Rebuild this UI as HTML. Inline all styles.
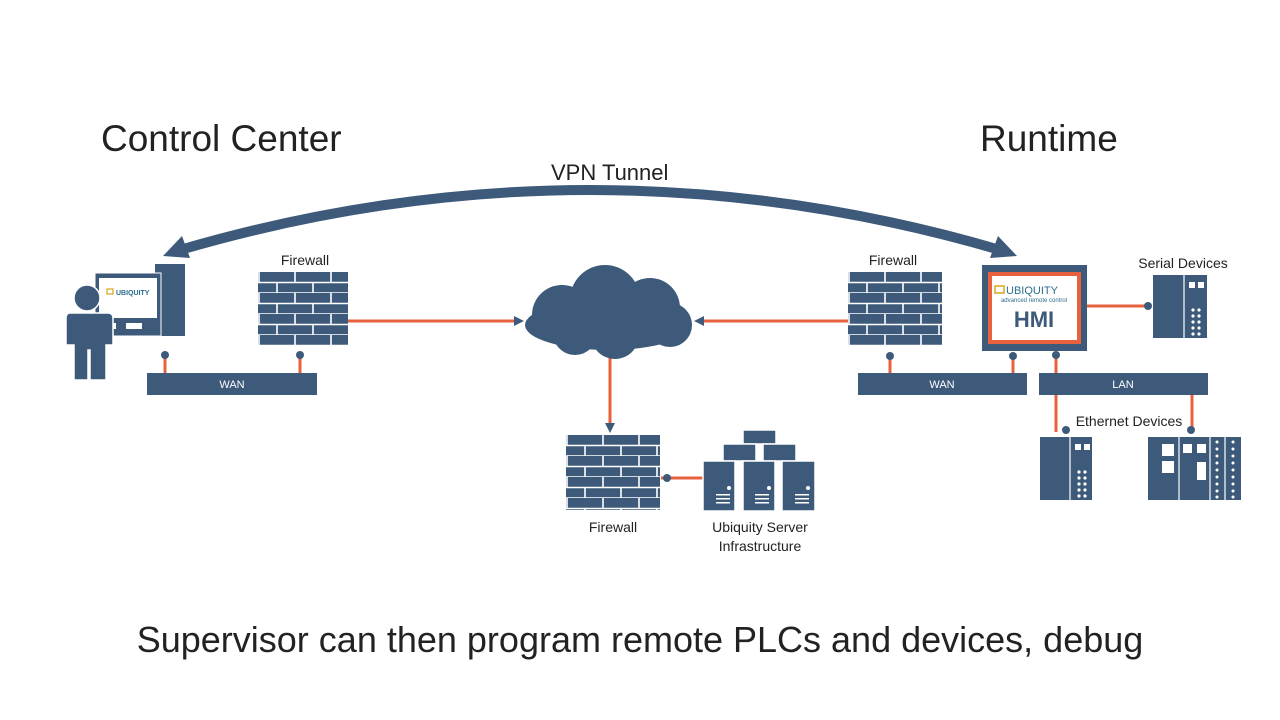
<!DOCTYPE html>
<html><head><meta charset="utf-8"><style>
html,body{margin:0;padding:0;background:#fff;width:1280px;height:720px;overflow:hidden}
svg{display:block}
text{font-family:"Liberation Sans",sans-serif}
</style></head><body>
<svg width="1280" height="720" viewBox="0 0 1280 720">
<defs>
<pattern id="b1" x="258" y="272" width="36" height="21" patternUnits="userSpaceOnUse">
<rect width="36" height="21" fill="#3d5a7a"/>
<path d="M0 10.5H36M0 21H36M1 0V10.5M19 10.5V21" stroke="#fff" stroke-width="1.6" fill="none"/>
</pattern>
<pattern id="b2" x="848" y="272" width="36" height="21" patternUnits="userSpaceOnUse">
<rect width="36" height="21" fill="#3d5a7a"/>
<path d="M0 10.5H36M0 21H36M1 0V10.5M19 10.5V21" stroke="#fff" stroke-width="1.6" fill="none"/>
</pattern>
<pattern id="b3" x="566" y="435" width="36" height="21" patternUnits="userSpaceOnUse">
<rect width="36" height="21" fill="#3d5a7a"/>
<path d="M0 10.5H36M0 21H36M1 0V10.5M19 10.5V21" stroke="#fff" stroke-width="1.6" fill="none"/>
</pattern>
</defs>
<g fill="#222">
<text x="101" y="151" font-size="37">Control Center</text>
<text x="980" y="151" font-size="37">Runtime</text>
<text x="551" y="180" font-size="22">VPN Tunnel</text>
<text x="640" y="652" font-size="36" text-anchor="middle">Supervisor can then program remote PLCs and devices, debug</text>
<text x="305" y="265" font-size="14" text-anchor="middle">Firewall</text>
<text x="893" y="265" font-size="14" text-anchor="middle">Firewall</text>
<text x="1183" y="268" font-size="14" text-anchor="middle">Serial Devices</text>
<text x="1129" y="426" font-size="14" text-anchor="middle">Ethernet Devices</text>
<text x="613" y="532" font-size="14" text-anchor="middle">Firewall</text>
<text x="760" y="532" font-size="14" text-anchor="middle">Ubiquity Server</text>
<text x="760" y="551" font-size="14" text-anchor="middle">Infrastructure</text>
</g>
<path d="M180 250 Q590 130 1000 250" stroke="#3d5a7a" stroke-width="10" fill="none"/>
<polygon points="163,256 182,236 190,258" fill="#3d5a7a"/>
<polygon points="1017,256 998,236 990,258" fill="#3d5a7a"/>
<g stroke="#e8603c" stroke-width="3" fill="none">
<path d="M348 321H518M848 321H700M610 358V426M661 478H703M1087 306H1147"/>
<path d="M165 358V374M300 358V374M890 358V374M1013 358V374M1056 358V374M1056 395V432M1192 395V432"/>
</g>
<polygon points="524,321 514,316 514,326" fill="#3d5a7a"/>
<polygon points="694,321 704,316 704,326" fill="#3d5a7a"/>
<polygon points="610,433 605,423 615,423" fill="#3d5a7a"/>
<g fill="#3d5a7a">
<circle cx="165" cy="355" r="4"/><circle cx="300" cy="355" r="4"/>
<circle cx="890" cy="356" r="4"/><circle cx="1013" cy="356" r="4"/><circle cx="1056" cy="355" r="4"/>
<circle cx="1148" cy="306" r="4"/><circle cx="1066" cy="430" r="4"/><circle cx="1191" cy="430" r="4"/>
<circle cx="667" cy="478" r="4"/>
</g>
<rect x="258" y="272" width="90" height="74" fill="url(#b1)"/>
<rect x="848" y="272" width="94" height="74" fill="url(#b2)"/>
<rect x="566" y="435" width="94" height="75" fill="url(#b3)"/>
<g fill="#3d5a7a">
<ellipse cx="608" cy="325" rx="83" ry="25"/>
<circle cx="562" cy="315" r="30"/>
<circle cx="605" cy="300" r="35"/>
<circle cx="650" cy="308" r="30"/>
<circle cx="670" cy="325" r="22"/>
<circle cx="575" cy="333" r="22"/>
<circle cx="615" cy="335" r="24"/>
</g>
<g fill="#3d5a7a">
<rect x="147" y="373" width="170" height="22"/>
<rect x="858" y="373" width="169" height="22"/>
<rect x="1039" y="373" width="169" height="22"/>
</g>
<g fill="#fff" font-size="11" text-anchor="middle">
<text x="232" y="388">WAN</text><text x="942" y="388">WAN</text><text x="1123" y="388">LAN</text>
</g>
<rect x="155" y="264" width="30" height="72" fill="#3d5a7a"/>
<rect x="95" y="273" width="66" height="63" fill="#3d5a7a" stroke="#fff" stroke-width="1"/>
<rect x="99" y="278" width="58" height="40" fill="#fff"/>
<rect x="107" y="289" width="6" height="5" fill="none" stroke="#d9a520" stroke-width="1.2"/>
<text x="116" y="295" font-size="7" fill="#2b6e8f" font-weight="bold">UBIQUITY</text>
<rect x="103" y="323" width="13" height="6" fill="#fff"/><rect x="126" y="323" width="16" height="6" fill="#fff"/>
<g fill="#3d5a7a" stroke="#fff" stroke-width="1.5">
<circle cx="87" cy="298" r="13"/>
<path d="M70 313H108Q113 313 113 318V345H106V380H90V350H88V380H74V345H66V318Q66 313 70 313Z"/>
</g>
<rect x="982" y="265" width="105" height="86" fill="#3d5a7a"/>
<rect x="988" y="272" width="93" height="72" fill="#e8603c"/>
<rect x="992" y="276" width="85" height="64" fill="#fff"/>
<rect x="995" y="286" width="9" height="7" fill="none" stroke="#d9a520" stroke-width="1.5"/>
<text x="1006" y="294" font-size="11" fill="#2b6e8f">UBIQUITY</text>
<text x="1034" y="302" font-size="6" fill="#2b6e8f" text-anchor="middle">advanced remote control</text>
<text x="1034" y="327" font-size="22" font-weight="bold" fill="#3d5a7a" text-anchor="middle">HMI</text>
<g fill="#3d5a7a">
<rect x="1153" y="275" width="54" height="63"/>
<rect x="1040" y="437" width="52" height="63"/>
<rect x="1148" y="437" width="93" height="63"/>
</g>
<g stroke="#fff" stroke-width="1.2"><path d="M1184 275V338M1070 437V500M1179 437V500M1210 437V500M1225 437V500"/></g>
<g fill="#fff">
<rect x="1189" y="282" width="6" height="6"/><rect x="1198" y="282" width="6" height="6"/>
<rect x="1075" y="444" width="6" height="6"/><rect x="1084" y="444" width="6" height="6"/>
<rect x="1162" y="444" width="12" height="12"/><rect x="1162" y="461" width="12" height="12"/>
<rect x="1183" y="444" width="9" height="9"/><rect x="1197" y="444" width="9" height="9"/><rect x="1197" y="462" width="9" height="18"/>
</g>
<g fill="#fff">
<circle cx="1193" cy="310" r="1.6"/><circle cx="1199" cy="310" r="1.6"/><circle cx="1193" cy="316" r="1.6"/><circle cx="1199" cy="316" r="1.6"/><circle cx="1193" cy="322" r="1.6"/><circle cx="1199" cy="322" r="1.6"/><circle cx="1193" cy="328" r="1.6"/><circle cx="1199" cy="328" r="1.6"/><circle cx="1193" cy="334" r="1.6"/><circle cx="1199" cy="334" r="1.6"/>
<circle cx="1079" cy="472" r="1.6"/><circle cx="1085" cy="472" r="1.6"/><circle cx="1079" cy="478" r="1.6"/><circle cx="1085" cy="478" r="1.6"/><circle cx="1079" cy="484" r="1.6"/><circle cx="1085" cy="484" r="1.6"/><circle cx="1079" cy="490" r="1.6"/><circle cx="1085" cy="490" r="1.6"/><circle cx="1079" cy="496" r="1.6"/><circle cx="1085" cy="496" r="1.6"/>
<circle cx="1217" cy="442" r="1.5"/><circle cx="1217" cy="449" r="1.5"/><circle cx="1217" cy="456" r="1.5"/><circle cx="1217" cy="463" r="1.5"/><circle cx="1217" cy="470" r="1.5"/><circle cx="1217" cy="477" r="1.5"/><circle cx="1217" cy="484" r="1.5"/><circle cx="1217" cy="491" r="1.5"/><circle cx="1217" cy="497" r="1.5"/>
<circle cx="1233" cy="442" r="1.5"/><circle cx="1233" cy="449" r="1.5"/><circle cx="1233" cy="456" r="1.5"/><circle cx="1233" cy="463" r="1.5"/><circle cx="1233" cy="470" r="1.5"/><circle cx="1233" cy="477" r="1.5"/><circle cx="1233" cy="484" r="1.5"/><circle cx="1233" cy="491" r="1.5"/><circle cx="1233" cy="497" r="1.5"/>
</g>
<g fill="#3d5a7a" stroke="#fff" stroke-width="1.5">
<rect x="743" y="430" width="33" height="14"/>
<rect x="723" y="444" width="33" height="17"/><rect x="763" y="444" width="33" height="17"/>
<rect x="703" y="461" width="32" height="50"/><rect x="743" y="461" width="32" height="50"/><rect x="782" y="461" width="33" height="50"/>
</g>
<g fill="#fff">
<circle cx="729" cy="488" r="2"/><circle cx="769" cy="488" r="2"/><circle cx="808" cy="488" r="2"/>
<rect x="716" y="494" width="14" height="1.5"/><rect x="716" y="498" width="14" height="1.5"/><rect x="716" y="502" width="14" height="1.5"/>
<rect x="755" y="494" width="14" height="1.5"/><rect x="755" y="498" width="14" height="1.5"/><rect x="755" y="502" width="14" height="1.5"/>
<rect x="795" y="494" width="14" height="1.5"/><rect x="795" y="498" width="14" height="1.5"/><rect x="795" y="502" width="14" height="1.5"/>
</g>
</svg>
</body></html>
